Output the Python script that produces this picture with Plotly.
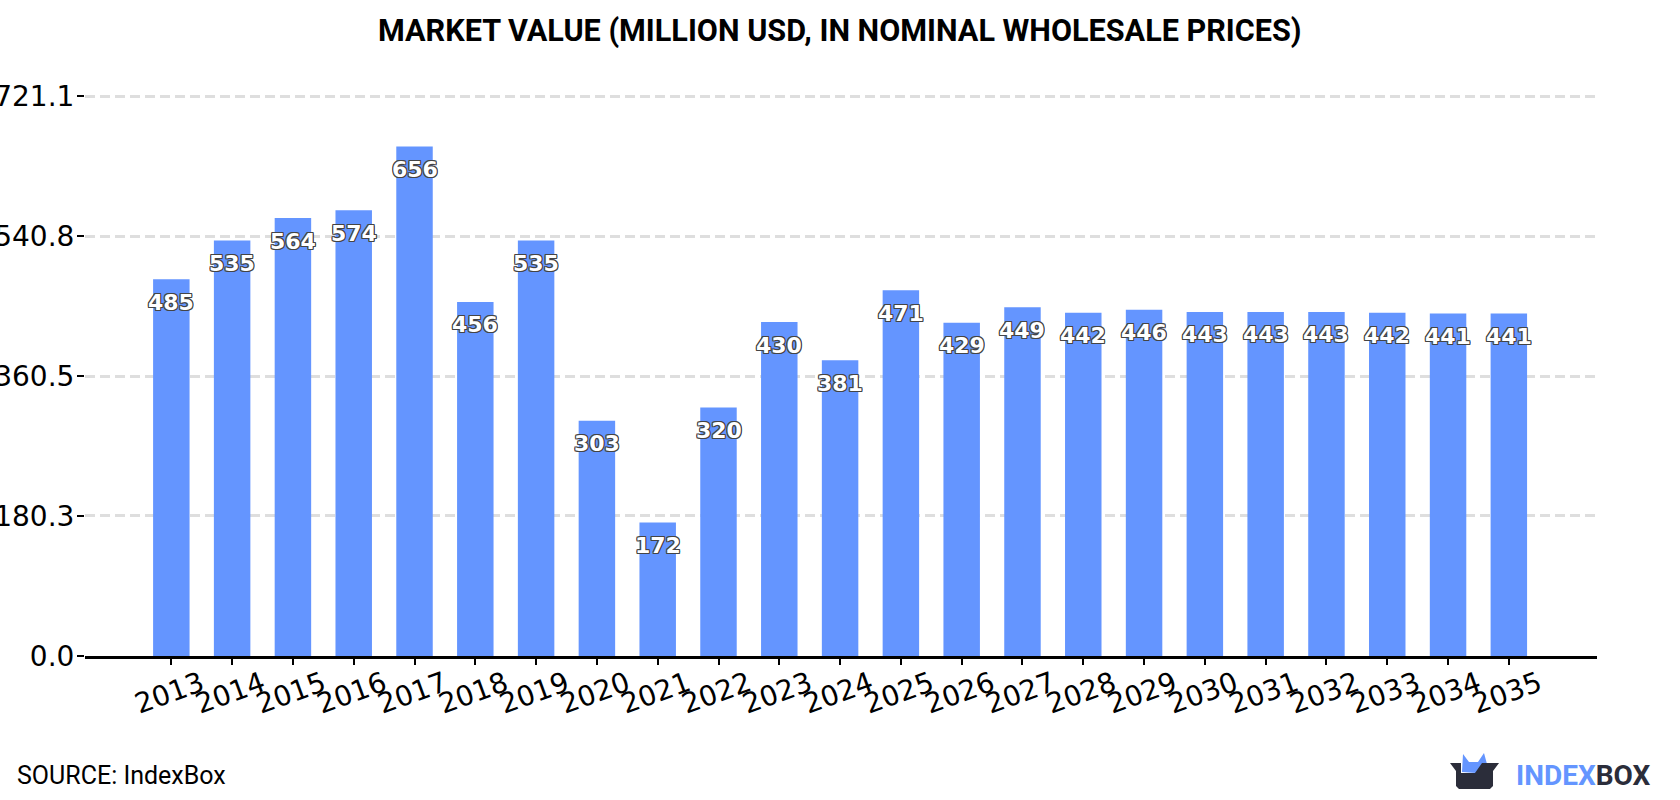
import plotly.graph_objects as go

# Market value by year, million USD
years = [2013, 2014, 2015, 2016, 2017, 2018, 2019, 2020, 2021, 2022, 2023, 2024,
         2025, 2026, 2027, 2028, 2029, 2030, 2031, 2032, 2033, 2034, 2035]
values = [485, 535, 564, 574, 656, 456, 535, 303, 172, 320, 430, 381,
          471, 429, 449, 442, 446, 443, 443, 443, 442, 441, 441]
y_ticks = [0.0, 180.3, 360.5, 540.8, 721.1]

BAR_BLUE = "#6495ff"
DARK = "#2b2d3a"
OUTLINE = ("-1px -1px 0 #444, 1px -1px 0 #444, -1px 1px 0 #444, 1px 1px 0 #444, "
           "0 1px 0 #444, 0 -1px 0 #444, 1px 0 0 #444, -1px 0 0 #444")

W, H = 1680, 800
L, R, T, B = 85, 83, 94, 144
PW, PH = W - L - R, H - T - B


def px(x):
    return (x - L) / PW


def py(y):
    return (H - B - y) / PH


def logo_path(points):
    return "M " + " L ".join(f"{px(x):.5f},{py(y):.5f}" for x, y in points) + " Z"


fig = go.Figure(go.Bar(
    x=list(range(len(years))),
    y=values,
    width=0.6,
    marker=dict(color=BAR_BLUE, line=dict(width=0)),
    hoverinfo="x+y",
))

# Value labels sit just inside the top of each bar
annotations = [
    dict(x=i, y=v, xref="x", yref="y", text=str(v), showarrow=False,
         yshift=-23, yanchor="middle", xanchor="center",
         font=dict(family="DejaVu Sans", size=22, color="white", weight="bold", shadow=OUTLINE))
    for i, v in enumerate(values)
]


def page_text(x, y, text, size, family, weight="normal", color="#000", anchor="left"):
    return dict(x=px(x), y=py(y), xref="paper", yref="paper", text=text, showarrow=False,
                xanchor=anchor, yanchor="middle",
                font=dict(family=family, size=size, color=color, weight=weight))


annotations += [
    page_text(840, 31, "MARKET VALUE (MILLION USD, IN NOMINAL WHOLESALE PRICES)", 30.6,
              "Roboto", weight="bold", anchor="center"),
    page_text(15, 775, "SOURCE: IndexBox", 25, "Roboto"),
    page_text(1514, 775,
              f'<span style="color:{BAR_BLUE}">INDEX</span><span style="color:{DARK}">BOX</span>',
              28, "Roboto", weight="bold"),
]

# Box-shaped logo in the lower right corner
shapes = [
    dict(type="path", xref="paper", yref="paper", line_width=0, fillcolor=BAR_BLUE, layer="above",
         path=logo_path([(1462, 772), (1463, 754), (1469, 762), (1478, 762), (1484, 753), (1487, 764),
                         (1476, 773)])),
    dict(type="path", xref="paper", yref="paper", line_width=0, fillcolor=DARK, layer="above",
         path=logo_path([(1450, 763), (1461, 763), (1461, 773), (1475, 773), (1482, 763), (1499, 763),
                         (1493, 771), (1493, 786), (1490, 789), (1459, 789), (1456, 786), (1456, 771)])),
]

fig.update_layout(
    width=W, height=H, autosize=False,
    margin=dict(l=L, r=R, t=T, b=B, pad=0),
    paper_bgcolor="white", plot_bgcolor="white",
    showlegend=False,
    annotations=annotations,
    shapes=shapes,
    xaxis=dict(
        automargin=False,
        range=[-1.42, 23.45],
        tickmode="array",
        tickvals=list(range(len(years))),
        ticktext=[str(y) for y in years],
        tickangle=-20,
        ticks="outside", ticklen=6, tickwidth=2, tickcolor="#000",
        tickfont=dict(family="DejaVu Sans", size=28, color="#000"),
        ticklabelshift=30,
        ticklabelstandoff=-8,
        showgrid=False, zeroline=False,
        showline=True, linecolor="#000", linewidth=3,
    ),
    yaxis=dict(
        automargin=False,
        # headroom of a couple of pixels keeps the top gridline from being clipped
        range=[0, 723.7],
        tickmode="array",
        tickvals=y_ticks,
        ticktext=[f"{t:.1f}" for t in y_ticks],
        ticks="outside", ticklen=7, tickwidth=2, tickcolor="#000",
        tickfont=dict(family="DejaVu Sans", size=28, color="#000"),
        ticklabelstandoff=-3,
        showgrid=True, gridcolor="#dedede", gridwidth=2.5, griddash="10px,5px",
        zeroline=False, showline=False,
    ),
)

fig.write_html("out.html")
